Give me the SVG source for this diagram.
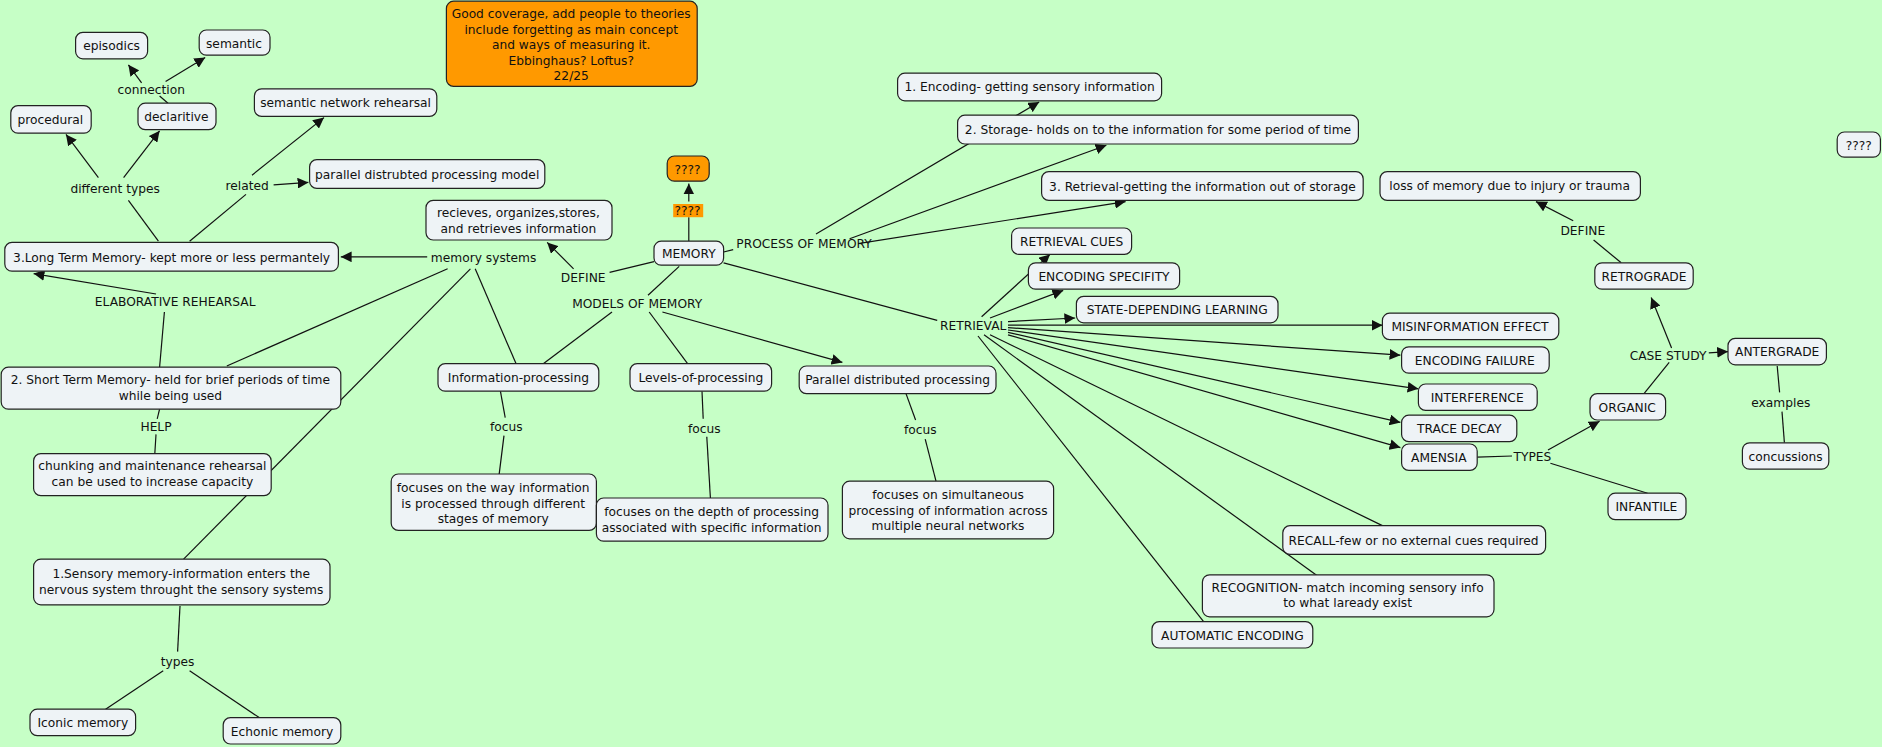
<svg xmlns="http://www.w3.org/2000/svg" width="1882" height="747" viewBox="0 0 1882 747">
<style>
.n rect{fill:#eef3f6;stroke:#222;stroke-width:1}
.o rect{fill:#ff9900;stroke:#222;stroke-width:1}
text{font-family:"DejaVu Sans","Liberation Sans",sans-serif;font-size:10.2px;fill:#111;text-anchor:middle}
.c line{stroke:#111;stroke-width:1}
.a{marker-end:url(#ar)}
</style>
<defs><marker id="ar" viewBox="0 0 10 10" refX="10" refY="5" markerWidth="9" markerHeight="9" markerUnits="userSpaceOnUse" orient="auto"><path d="M0,0L10,5L0,10z" fill="#111"/></marker></defs>
<rect width="1882" height="747" fill="#c6ffc6"/>
<g transform="scale(1.2)">
<g class="c">
<line x1="118" y1="69" x2="107" y2="54" class="a"/>
<line x1="138" y1="68" x2="171" y2="48" class="a"/>
<line x1="140" y1="86" x2="133" y2="80"/>
<line x1="82" y1="148" x2="55" y2="112" class="a"/>
<line x1="103" y1="148" x2="133" y2="109" class="a"/>
<line x1="132" y1="201" x2="107" y2="167"/>
<line x1="158" y1="201" x2="205" y2="162"/>
<line x1="210" y1="146" x2="270" y2="98" class="a"/>
<line x1="228" y1="154" x2="257" y2="152" class="a"/>
<line x1="356" y1="214" x2="284" y2="214" class="a"/>
<line x1="373" y1="224" x2="189" y2="305"/>
<line x1="392" y1="224" x2="153" y2="466"/>
<line x1="396" y1="224" x2="430" y2="303"/>
<line x1="130" y1="245" x2="28" y2="228" class="a"/>
<line x1="133" y1="306" x2="137" y2="260"/>
<line x1="133" y1="341" x2="131" y2="349"/>
<line x1="130" y1="362" x2="129" y2="378"/>
<line x1="150" y1="505" x2="148" y2="543"/>
<line x1="136" y1="559" x2="88" y2="591"/>
<line x1="158" y1="559" x2="216" y2="598"/>
<line x1="574" y1="201" x2="574" y2="181"/>
<line x1="574" y1="168" x2="574" y2="153" class="a"/>
<line x1="545" y1="218" x2="508" y2="227"/>
<line x1="478" y1="224" x2="456" y2="202" class="a"/>
<line x1="566" y1="222" x2="540" y2="246"/>
<line x1="510" y1="260" x2="453" y2="303"/>
<line x1="541" y1="260" x2="573" y2="303"/>
<line x1="552" y1="260" x2="702" y2="302" class="a"/>
<line x1="417" y1="326" x2="421" y2="348"/>
<line x1="420" y1="363" x2="416" y2="395"/>
<line x1="585" y1="326" x2="586" y2="349"/>
<line x1="589" y1="364" x2="592" y2="415"/>
<line x1="755" y1="328" x2="763" y2="350"/>
<line x1="771" y1="366" x2="780" y2="401"/>
<line x1="603" y1="210" x2="611" y2="208"/>
<line x1="680" y1="195" x2="866" y2="85" class="a"/>
<line x1="708" y1="199" x2="922" y2="121" class="a"/>
<line x1="715" y1="203" x2="938" y2="168" class="a"/>
<line x1="603" y1="219" x2="781" y2="267"/>
<line x1="818" y1="264" x2="875" y2="212" class="a"/>
<line x1="825" y1="265" x2="886" y2="242" class="a"/>
<line x1="840" y1="268" x2="896" y2="265" class="a"/>
<line x1="840" y1="271" x2="1152" y2="271" class="a"/>
<line x1="840" y1="273" x2="1167" y2="296" class="a"/>
<line x1="840" y1="275" x2="1182" y2="324" class="a"/>
<line x1="840" y1="277" x2="1167" y2="352" class="a"/>
<line x1="840" y1="279" x2="1167" y2="373" class="a"/>
<line x1="825" y1="279" x2="1152" y2="438"/>
<line x1="820" y1="279" x2="1098" y2="480"/>
<line x1="815" y1="280" x2="1003" y2="518"/>
<line x1="1231" y1="381" x2="1260" y2="380"/>
<line x1="1290" y1="375" x2="1333" y2="351" class="a"/>
<line x1="1292" y1="386" x2="1373" y2="411"/>
<line x1="1370" y1="328" x2="1391" y2="302"/>
<line x1="1393" y1="290" x2="1376" y2="248" class="a"/>
<line x1="1424" y1="294" x2="1440" y2="293" class="a"/>
<line x1="1351" y1="219" x2="1328" y2="200"/>
<line x1="1311" y1="184" x2="1280" y2="168" class="a"/>
<line x1="1481" y1="305" x2="1483" y2="327"/>
<line x1="1485" y1="343" x2="1487" y2="369"/>
</g>
<g id="labels">
<text x="126" y="78">connection</text>
<text x="96" y="161">different types</text>
<text x="206" y="158">related</text>
<text x="403" y="218">memory systems</text>
<text x="146" y="255">ELABORATIVE REHEARSAL</text>
<text x="130" y="359">HELP</text>
<text x="148" y="555">types</text>
<text x="422" y="359">focus</text>
<text x="587" y="361">focus</text>
<text x="767" y="362">focus</text>
<text x="486" y="235">DEFINE</text>
<text x="531" y="257">MODELS OF MEMORY</text>
<text x="670" y="207">PROCESS OF MEMORY</text>
<text x="811" y="275">RETRIEVAL</text>
<text x="1319" y="196">DEFINE</text>
<text x="1390" y="300">CASE STUDY</text>
<text x="1277" y="384">TYPES</text>
<text x="1484" y="339">examples</text>
<g id="qlabel"><rect x="561" y="170" width="25" height="11" fill="#ff9900"/><text x="573" y="179">????</text></g>
</g>
<g id="episodics" class="n"><rect x="63" y="27" width="60" height="22" rx="6"/><text x="93" y="42">episodics</text></g>
<g id="semantic" class="n"><rect x="166" y="25" width="59" height="21" rx="6"/><text x="195" y="40">semantic</text></g>
<g id="procedural" class="n"><rect x="9" y="88" width="67" height="23" rx="6"/><text x="42" y="103">procedural</text></g>
<g id="declaritive" class="n"><rect x="115" y="86" width="65" height="22" rx="6"/><text x="147" y="101">declaritive</text></g>
<g id="snr" class="n"><rect x="212" y="74" width="152" height="23" rx="6"/><text x="288" y="89">semantic network rehearsal</text></g>
<g id="pdpm" class="n"><rect x="258" y="133" width="196" height="24" rx="6"/><text x="356" y="149">parallel distrubted processing model</text></g>
<g id="comment" class="o"><rect x="372" y="1" width="209" height="71" rx="6"/><text x="476" y="15">Good coverage, add people to theories</text><text x="476" y="28">include forgetting as main concept</text><text x="476" y="41">and ways of measuring it.</text><text x="476" y="54">Ebbinghaus? Loftus?</text><text x="476" y="67">22/25</text></g>
<g id="q1" class="o"><rect x="556" y="130" width="35" height="21" rx="6"/><text x="573" y="145">????</text></g>
<g id="recieves" class="n"><rect x="355" y="167" width="155" height="33" rx="6"/><text x="432" y="181">recieves, organizes,stores,</text><text x="432" y="194">and retrieves information</text></g>
<g id="memory" class="n"><rect x="545" y="201" width="58" height="20" rx="6"/><text x="574" y="215">MEMORY</text></g>
<g id="ltm" class="n"><rect x="4" y="202" width="278" height="24" rx="6"/><text x="143" y="218">3.Long Term Memory- kept more or less permantely</text></g>
<g id="stm" class="n"><rect x="1" y="306" width="283" height="35" rx="6"/><text x="142" y="320">2. Short Term Memory- held for brief periods of time</text><text x="142" y="333">while being used</text></g>
<g id="chunking" class="n"><rect x="28" y="378" width="198" height="35" rx="6"/><text x="127" y="392">chunking and maintenance rehearsal</text><text x="127" y="405">can be used to increase capacity</text></g>
<g id="sensory" class="n"><rect x="28" y="466" width="247" height="38" rx="6"/><text x="151" y="482">1.Sensory memory-information enters the</text><text x="151" y="495">nervous system throught the sensory systems</text></g>
<g id="iconic" class="n"><rect x="25" y="591" width="88" height="22" rx="6"/><text x="69" y="606">Iconic memory</text></g>
<g id="echonic" class="n"><rect x="186" y="598" width="98" height="22" rx="6"/><text x="235" y="613">Echonic memory</text></g>
<g id="infoproc" class="n"><rect x="365" y="303" width="134" height="23" rx="6"/><text x="432" y="318">Information-processing</text></g>
<g id="levels" class="n"><rect x="525" y="303" width="118" height="23" rx="6"/><text x="584" y="318">Levels-of-processing</text></g>
<g id="pdp" class="n"><rect x="666" y="305" width="164" height="23" rx="6"/><text x="748" y="320">Parallel distributed processing</text></g>
<g id="f1" class="n"><rect x="326" y="395" width="171" height="47" rx="6"/><text x="411" y="410">focuses on the way information</text><text x="411" y="423">is processed through different</text><text x="411" y="436">stages of memory</text></g>
<g id="f2" class="n"><rect x="497" y="415" width="193" height="36" rx="6"/><text x="593" y="430">focuses on the depth of processing</text><text x="593" y="443">associated with specific information</text></g>
<g id="f3" class="n"><rect x="702" y="401" width="176" height="48" rx="6"/><text x="790" y="416">focuses on simultaneous</text><text x="790" y="429">processing of information across</text><text x="790" y="442">multiple neural networks</text></g>
<g id="enc" class="n"><rect x="748" y="61" width="220" height="23" rx="6"/><text x="858" y="76">1. Encoding- getting sensory information</text></g>
<g id="sto" class="n"><rect x="798" y="96" width="334" height="24" rx="6"/><text x="965" y="112">2. Storage- holds on to the information for some period of time</text></g>
<g id="ret" class="n"><rect x="868" y="143" width="268" height="24" rx="6"/><text x="1002" y="159">3. Retrieval-getting the information out of storage</text></g>
<g id="cues" class="n"><rect x="843" y="190" width="100" height="22" rx="6"/><text x="893" y="205">RETRIEVAL CUES</text></g>
<g id="encspec" class="n"><rect x="857" y="219" width="126" height="22" rx="6"/><text x="920" y="234">ENCODING SPECIFITY</text></g>
<g id="state" class="n"><rect x="897" y="247" width="168" height="22" rx="6"/><text x="981" y="262">STATE-DEPENDING LEARNING</text></g>
<g id="misinfo" class="n"><rect x="1152" y="261" width="147" height="22" rx="6"/><text x="1225" y="276">MISINFORMATION EFFECT</text></g>
<g id="encfail" class="n"><rect x="1168" y="289" width="123" height="22" rx="6"/><text x="1229" y="304">ENCODING FAILURE</text></g>
<g id="interf" class="n"><rect x="1182" y="320" width="99" height="22" rx="6"/><text x="1231" y="335">INTERFERENCE</text></g>
<g id="trace" class="n"><rect x="1168" y="346" width="96" height="22" rx="6"/><text x="1216" y="361">TRACE DECAY</text></g>
<g id="amensia" class="n"><rect x="1168" y="370" width="63" height="22" rx="6"/><text x="1199" y="385">AMENSIA</text></g>
<g id="recall" class="n"><rect x="1069" y="438" width="219" height="24" rx="6"/><text x="1178" y="454">RECALL-few or no external cues required</text></g>
<g id="recog" class="n"><rect x="1002" y="479" width="243" height="35" rx="6"/><text x="1123" y="493">RECOGNITION- match incoming sensory info</text><text x="1123" y="506">to what laready exist</text></g>
<g id="auto" class="n"><rect x="960" y="518" width="134" height="22" rx="6"/><text x="1027" y="533">AUTOMATIC ENCODING</text></g>
<g id="loss" class="n"><rect x="1150" y="143" width="217" height="24" rx="6"/><text x="1258" y="158">loss of memory due to injury or trauma</text></g>
<g id="retro" class="n"><rect x="1329" y="219" width="82" height="22" rx="6"/><text x="1370" y="234">RETROGRADE</text></g>
<g id="anter" class="n"><rect x="1440" y="282" width="82" height="22" rx="6"/><text x="1481" y="297">ANTERGRADE</text></g>
<g id="organic" class="n"><rect x="1325" y="328" width="63" height="22" rx="6"/><text x="1356" y="343">ORGANIC</text></g>
<g id="conc" class="n"><rect x="1452" y="369" width="72" height="22" rx="6"/><text x="1488" y="384">concussions</text></g>
<g id="infantile" class="n"><rect x="1340" y="411" width="65" height="22" rx="6"/><text x="1372" y="426">INFANTILE</text></g>
<g id="q2" class="n"><rect x="1531" y="110" width="36" height="21" rx="6"/><text x="1549" y="125">????</text></g>
</g>
</svg>
